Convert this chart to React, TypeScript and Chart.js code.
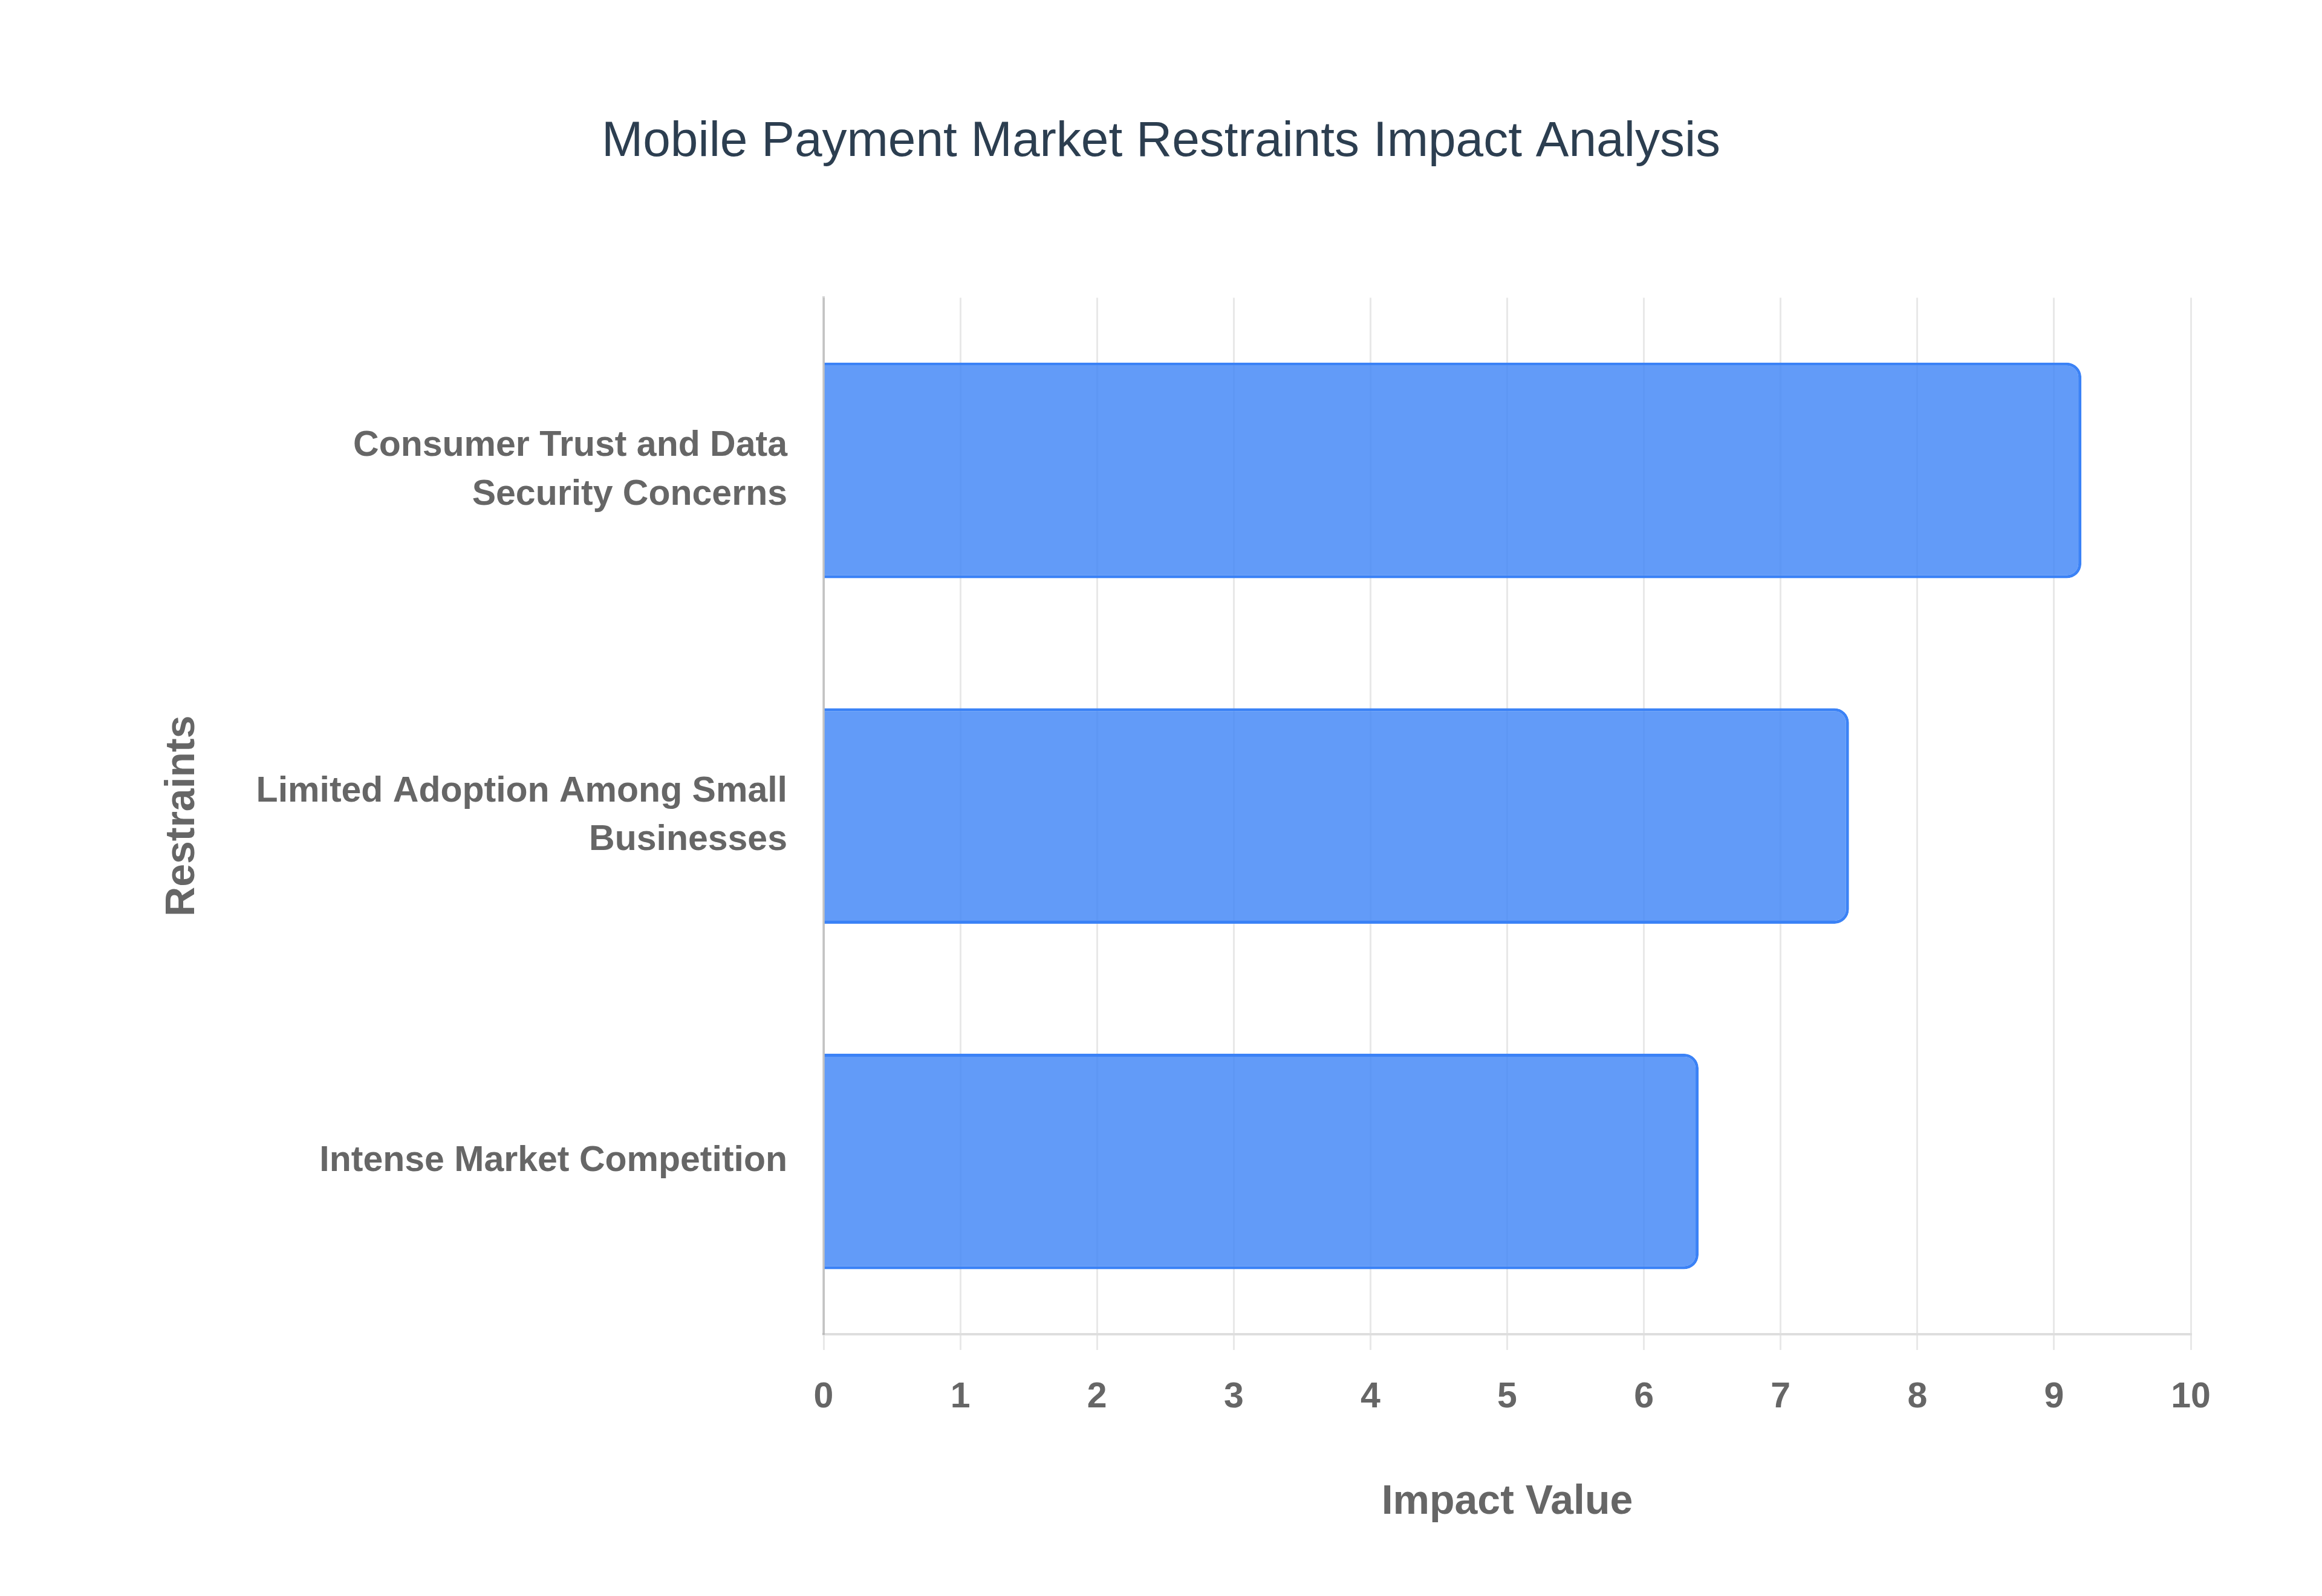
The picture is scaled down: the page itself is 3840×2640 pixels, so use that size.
import React, { useEffect, useRef } from 'react';
import { Chart, registerables } from 'chart.js';

Chart.register(...registerables);

// labels as the chart shows them (wrapped lines)
const restraints = [
  ['Consumer Trust and Data', 'Security Concerns'],
  ['Limited Adoption Among Small', 'Businesses'],
  'Intense Market Competition',
];
const impactValues = [9.2, 7.5, 6.4];
const xMin = 0;
const xMax = 10;
const xStep = 1;

const FONT = '"Liberation Sans", Arial, Helvetica, sans-serif';

export default function App() {
  const ref = useRef<HTMLCanvasElement>(null);

  useEffect(() => {
    if (!ref.current) return;
    const chart = new Chart(ref.current, {
      type: 'bar',
      data: {
        labels: restraints,
        datasets: [{
          label: 'Impact Value',
          data: impactValues,
          backgroundColor: 'rgba(59,130,246,0.8)',
          borderColor: '#3b82f6',
          borderWidth: 5,
          borderRadius: 24,
          barPercentage: 0.78,
          categoryPercentage: 0.8,
        }],
      },
      options: {
        indexAxis: 'y',
        responsive: true,
        maintainAspectRatio: false,
        animation: false,
        // equal side padding keeps the title centred on the page
        layout: { padding: { left: 217, right: 217, top: 0, bottom: 114 } },
        plugins: {
          legend: { display: false },
          tooltip: { enabled: false },
          title: {
            display: true,
            text: 'Mobile Payment Market Restraints Impact Analysis',
            color: '#2c3e50',
            font: { family: FONT, size: 82, weight: 'normal' },
            padding: { top: 186, bottom: 208 },
          },
        },
        scales: {
          x: {
            min: xMin,
            max: xMax,
            grid: { color: 'rgba(0,0,0,0.09)', lineWidth: 3, tickLength: 26 },
            border: { display: true, color: 'rgba(0,0,0,0.13)', width: 4 },
            ticks: {
              stepSize: xStep,
              color: '#666',
              padding: 43,
              font: { family: FONT, size: 59, weight: 'bold' },
            },
            title: {
              display: true,
              text: 'Impact Value',
              color: '#666',
              font: { family: FONT, size: 68, weight: 'bold' },
              padding: { top: 97, bottom: 0 },
            },
            afterFit: (s: any) => { s.height = 319; },
          },
          y: {
            grid: { display: false },
            border: { display: true, color: 'rgba(0,0,0,0.16)', width: 4 },
            ticks: {
              color: '#666',
              padding: 52,
              font: { family: FONT, size: 59, weight: 'bold', lineHeight: 1.37 },
            },
            title: {
              display: true,
              text: 'Restraints',
              color: '#666',
              font: { family: FONT, size: 68, weight: 'bold' },
              padding: { top: 44, bottom: 0 },
            },
            afterFit: (s: any) => { s.width = 1145; },
          },
        },
      },
    });
    return () => chart.destroy();
  }, []);

  return (
    <div style={{ position: 'absolute', left: 0, top: 0, width: 3840, height: 2640, background: '#fff' }}>
      <canvas ref={ref} />
    </div>
  );
}
